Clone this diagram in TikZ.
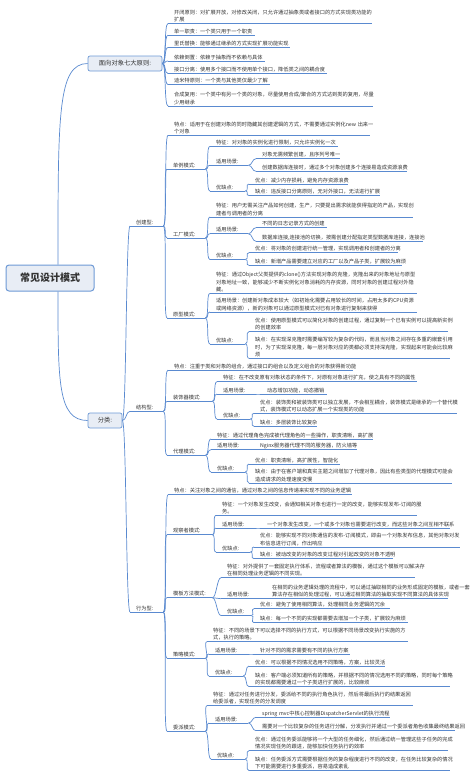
\documentclass[tikz,border=0pt]{standalone}
\usepackage{fontspec}
\newfontfamily\cjk{Noto Sans CJK SC}
\hyphenpenalty=10000
\exhyphenpenalty=10000
\definecolor{lnc}{HTML}{5A8AD0}
\definecolor{txt}{HTML}{333333}
\definecolor{boxf}{HTML}{E8EDF5}
\definecolor{boxb}{HTML}{6E9AD6}
\tikzset{
  topic/.style={anchor=south west, inner xsep=0pt, inner ysep=0.6pt, align=left,
    font=\cjk\fontsize{5.2}{7.2}\selectfont, text=txt},
  uline/.style={draw=lnc, line width=0.9pt},
  conn/.style={draw=lnc, line width=0.7pt},
  labelbox/.style={draw=boxb, fill=boxf, rounded corners=2pt, line width=0.7pt,
    font=\cjk\fontsize{6.3}{7.5}\selectfont, text=txt, minimum height=15pt, inner sep=1pt},
  titlebox/.style={draw=boxb, fill=boxf, rounded corners=3pt, line width=1pt,
    font=\cjk\fontsize{10}{12}\selectfont\bfseries, text=txt, minimum width=88pt, minimum height=26pt}
}
\newcommand\tp[5]{%
  \pgfmathsetmacro\tpw{#4-#2-8}%
  \node[topic,text width=\tpw pt] (#1) at (#2+6,#3) {#5\rule[-1.2pt]{0pt}{0pt}};%
  \draw[uline] ([xshift=-6pt]#1.south west) -- ([xshift=2pt]#1.south east);}
\newcommand\cn[2]{\draw[conn] ([xshift=2pt]#1.south east) .. controls +(4,0) and +(-4,0) .. ([xshift=-6pt]#2.south west);}
\newcommand\cb[2]{\draw[conn] (#1.east) .. controls +(4,0) and +(-4,0) .. ([xshift=-6pt]#2.south west);}
\begin{document}
\begin{tikzpicture}[x=1pt,y=-1pt]
\useasboundingbox (0,0) rectangle (474,777);
\fill[white] (0,0) rectangle (474,777);

\node[titlebox] (title) at (50,278) {常见设计模式};
\node[labelbox, minimum width=74pt] (prin) at (125,63.5) {面向对象七大原则:};
\node[labelbox, minimum width=34pt] (fenlei) at (105,420.5) {分类:};
\draw[conn] ([xshift=8pt]title.north) .. controls +(0,-150) and +(-30,0) .. (prin.west);
\draw[conn] ([xshift=8pt]title.south) .. controls +(0,90) and +(-30,0) .. (fenlei.west);

% principles
\tp{p1}{168}{23.5}{372}{开闭原则：对扩展开放，对修改关闭，只允许通过抽象类或者接口的方式实现类功能的\\扩展}
\tp{p2}{168}{35}{255}{单一职责：一个类只用于一个职责}
\tp{p3}{168}{47.5}{290}{里氏替换：能够通过继承的方式实现扩展功能实现}
\tp{p4}{168}{61}{265}{依赖倒置：依赖于抽象而不依赖与具体}
\tp{p5}{168}{73.5}{327}{接口分离：使用多个接口而不使用单个接口，降低类之间的耦合度}
\tp{p6}{168}{84.5}{270}{迪米特原则：一个类与其他类仅最少了解}
\tp{p7}{168}{106}{373}{合成复用：一个类中有另一个类的对象，尽量使用合成/聚合的方式达到类的复用，尽量\\少用继承}
\foreach \n in {p1,p2,p3,p4,p5,p6,p7} {\cb{prin}{\n}}

% categories
\tp{c1}{130}{226}{163}{创建型:}
\tp{c2}{130}{411.3}{163}{结构型:}
\tp{c3}{130}{612}{163}{行为型:}
\foreach \n in {c1,c2,c3} {\cb{fenlei}{\n}}

% creational
\tp{cz0}{168}{135.3}{370}{特点：适用于在创建对象的同时隐藏其创建逻辑的方式，不需要通过实例化new~出来一\\个对象}
\tp{cz1}{167}{169}{205}{单例模式:}
\tp{cz2}{167}{238}{205}{工厂模式:}
\tp{cz3}{167}{318}{205}{原型模式:}
\foreach \n in {cz0,cz1,cz2,cz3} {\cn{c1}{\n}}

\tp{d1}{210}{146.3}{338}{特征：对对象的实例化进行限制，只允许实例化一次}
\tp{d2}{210}{165.3}{248}{适用场景:}
\tp{d3}{210}{191}{245}{优缺点:}
\foreach \n in {d1,d2,d3} {\cn{cz1}{\n}}
\tp{d21}{256}{158.7}{340}{对象无需频繁创建，且序列号唯一}
\tp{d22}{256}{171.3}{407}{创建数据库连接时，通过多个对象创建多个连接易造成资源浪费}
\cn{d2}{d21} \cn{d2}{d22}
\tp{d31}{249}{184}{348}{优点：减少内存损耗，避免内存资源浪费}
\tp{d32}{249}{195.5}{380}{缺点：违反接口分离原则，无对外接口，无法进行扩展}
\cn{d3}{d31} \cn{d3}{d32}

\tp{e1}{210}{217}{413}{特征：用户无需关注产品如何创建，生产，只要提出需求就能获得指定的产品，实现创\\建者与调用者的分离}
\tp{e2}{210}{233.7}{248}{适用场景:}
\tp{e3}{210}{259.5}{245}{优缺点:}
\foreach \n in {e1,e2,e3} {\cn{cz2}{\n}}
\tp{e21}{256}{227.7}{327}{不同的日志记录方式的创建}
\tp{e22}{256}{241.3}{423}{数据库连接,连接池的切换，按需创建分配指定类型数据库连接，连接池}
\cn{e2}{e21} \cn{e2}{e22}
\tp{e31}{249}{252.7}{398}{优点：将对象的创建进行统一管理，实现调用者和创建者的分离}
\tp{e32}{249}{265.3}{402}{缺点：新增产品需要建立对应的工厂以及产品子类，扩展较为麻烦}
\cn{e3}{e31} \cn{e3}{e32}

\tp{f1}{210}{293.3}{417}{特征：通过Object父类提供的clone()方法实现对象的克隆，克隆出来的对象地址与原型\\对象地址一致，能够减少不断实例化对象消耗的内存资源，同时对象的创建过程对外隐\\藏。}
\tp{f2}{210}{312}{417}{适用场景：创建新对象成本较大（如初始化需要占用较长的时间，占用太多的CPU资源\\或网络资源），新的对象可以通过原型模式对已有对象进行复制来获得}
\tp{f3}{210}{344}{245}{优缺点:}
\foreach \n in {f1,f2,f3} {\cn{cz3}{\n}}
\tp{f31}{249}{331.5}{448}{优点：使用原型模式可以简化对象的创建过程，通过复制一个已有实例可以提高新实例\\的创建效率}
\tp{f32}{249}{358.3}{450}{缺点：在实现深克隆时需要编写较为复杂的代码，而且当对象之间存在多重的嵌套引用\\时，为了实现深克隆，每一层对象对应的类都必须支持深克隆，实现起来可能会比较麻\\烦}
\cn{f3}{f31} \cn{f3}{f32}

% structural
\tp{g0}{168}{370}{353}{特点：注重于类和对象的组合，通过接口的组合以及定义组合的对象获得新功能}
\tp{g1}{167}{401.3}{212}{装饰器模式:}
\tp{g2}{167}{455.3}{205}{代理模式:}
\foreach \n in {g0,g1,g2} {\cn{c2}{\n}}

\tp{h1}{217}{381.7}{417}{特征：在不改变原有对象状态的条件下，对原有对象进行扩充，使之具有不同的属性}
\tp{h2}{217}{394}{255}{适用场景:}
\tp{h3}{217}{419}{250}{优缺点:}
\foreach \n in {h1,h2,h3} {\cn{g1}{\n}}
\tp{h21}{261}{394}{327}{动态增加功能，动态撤销}
\cn{h2}{h21}
\tp{h31}{254}{413.3}{457}{优点：装饰类和被装饰类可以独立发展，不会相互耦合，装饰模式是继承的一个替代模\\式，装饰模式可以动态扩展一个实现类的功能}
\tp{h32}{254}{426.3}{317}{缺点：多层装饰比较复杂}
\cn{h3}{h31} \cn{h3}{h32}

\tp{i1}{211}{439}{373}{特征：通过代理角色完成被代理角色的一些操作，职责清晰，高扩展}
\tp{i2}{211}{449.7}{250}{适用场景:}
\tp{i3}{211}{472}{245}{优缺点:}
\foreach \n in {i1,i2,i3} {\cn{g2}{\n}}
\tp{i21}{254}{449.7}{357}{Nginx服务器代理不同的服务器，防火墙等}
\cn{i2}{i21}
\tp{i31}{249}{464}{340}{优点：职责清晰，高扩展性，智能化}
\tp{i32}{249}{483}{452}{缺点：由于在客户端和真实主题之间增加了代理对象，因此有些类型的代理模式可能会\\造成请求的处理速度变慢}
\cn{i3}{i31} \cn{i3}{i32}

% behavioral
\tp{j0}{168}{494.7}{352}{特点：关注对象之间的通信，通过对象之间的信息传递来实现不同的业务逻辑}
\tp{j1}{167}{534.7}{212}{观察者模式:}
\tp{j2}{167}{597.7}{212}{模板方法模式:}
\tp{j3}{167}{658.3}{205}{策略模式:}
\tp{j4}{167}{731.3}{205}{委派模式:}
\foreach \n in {j0,j1,j2,j3,j4} {\cn{c3}{\n}}

\tp{k1}{216}{515.3}{417}{特征：一个对象发生改变，会通知相关对象也进行一定的改变，能够实现发布-订阅的服\\务。}
\tp{k2}{216}{528}{255}{适用场景:}
\tp{k3}{216}{552}{250}{优缺点:}
\foreach \n in {k1,k2,k3} {\cn{j1}{\n}}
\tp{k21}{261}{528}{450}{一个对象发生改变，一个或多个对象也需要进行改变，而这些对象之间互相不联系}
\cn{k2}{k21}
\tp{k31}{254}{547}{460}{优点：能够实现不同对象通信的发布-订阅模式，即由一个对象发布信息，其他对象对发\\布信息进行订阅，作出响应}
\tp{k32}{254}{558.7}{393}{缺点：被动改变的对象的改变过程对引起改变的对象不透明}
\cn{k3}{k31} \cn{k3}{k32}

\tp{l1}{221}{577.7}{415}{特征：对外提供了一套固定执行体系，流程或者算法的模板，通过这个模板可以解决存\\在相同处理业务逻辑的不同实现。}
\tp{l2}{221}{598.7}{260}{适用场景:}
\tp{l3}{221}{615.5}{251}{优缺点:}
\foreach \n in {l1,l2,l3} {\cn{j2}{\n}}
\tp{l21}{266}{598.7}{448}{在相同的业务逻辑处理的流程中，可以通过抽取相同的业务形成固定的模板，或者一套\\算法存在相似的处理过程，可以通过相同算法的抽取实现不同算法的具体实现}
\cn{l2}{l21}
\tp{l31}{254}{608.7}{390}{优点：避免了使用相同算法，处理相同业务逻辑的冗余}
\tp{l32}{254}{622.7}{408}{缺点：每一个不同的实现都需要去增加一个子类，扩展较为麻烦}
\cn{l3}{l31} \cn{l3}{l32}

\tp{m1}{207}{641.7}{408}{特征：不同的场景下可以选择不同的执行方式，可以根据不同场景改变执行实施的方\\式，执行的策略。}
\tp{m2}{209}{654}{248}{适用场景:}
\tp{m3}{209}{676}{243}{优缺点:}
\foreach \n in {m1,m2,m3} {\cn{j3}{\n}}
\tp{m21}{254}{654}{350}{针对不同的需求需要有不同的执行方案}
\cn{m2}{m21}
\tp{m31}{249}{666}{385}{优点：可以根据不同情况选用不同策略，方案，比较灵活}
\tp{m32}{249}{686.7}{450}{缺点：客户端必须知道所有的策略，并根据不同的情况选用不同的策略，同时每个策略\\的实现都需要通过一个子类进行扩展的，比较麻烦}
\cn{m3}{m31} \cn{m3}{m32}

\tp{n1}{207}{705.7}{413}{特征：通过对任务进行分发，委派给不同的执行角色执行，然后将最后执行的结果返回\\给委派者，实现任务的分发调度}
\tp{n2}{209}{723}{248}{适用场景:}
\tp{n3}{211}{759}{245}{优缺点:}
\foreach \n in {n1,n2,n3} {\cn{j4}{\n}}
\tp{n21}{256}{717.3}{390}{spring~mvc中核心控制器DispatcherServlet的执行流程}
\tp{n22}{256}{730.7}{455}{需要对一个比较复杂的任务进行分解，分发执行并通过一个委派者角色收集最终结果返回}
\cn{n2}{n21} \cn{n2}{n22}
\tp{n31}{249}{750.7}{448}{优点：通过任务委派能够将一个大型的任务细化，然后通过统一管理这些子任务的完成\\情况实现任务的跟进，能够加快任务执行的效率}
\tp{n32}{249}{770.7}{450}{缺点：任务委派方式需要根据任务的复杂程度进行不同的改变，在任务比较复杂的情况\\下可能需要进行多重委派，容易造成紊乱}
\cn{n3}{n31} \cn{n3}{n32}
\end{tikzpicture}
\end{document}
